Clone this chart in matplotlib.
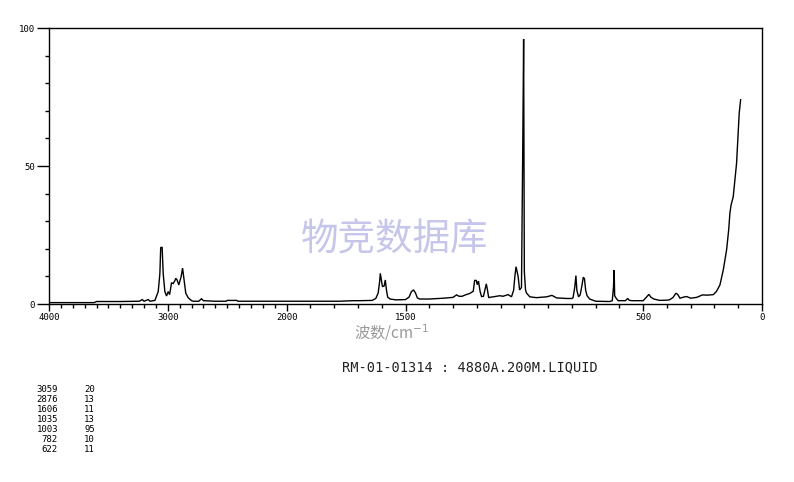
import numpy as np
import matplotlib
matplotlib.use("Agg")
import matplotlib.pyplot as plt
from matplotlib.ticker import FixedLocator, MultipleLocator

# ---- data (wavenumber cm-1, relative intensity) ----
wavenumber = [
    4000, 3620, 3600, 3400, 3240, 3215, 3200, 3165, 3150, 3109, 3095, 3081,
    3067, 3060, 3048, 3039, 3025, 3011, 2997, 2985, 2969, 2955, 2940, 2933,
    2922, 2908, 2888, 2876, 2863, 2849, 2829, 2800, 2787, 2740, 2717, 2700,
    2600, 2510, 2500, 2420, 2410, 2000,
    1780, 1720, 1693, 1640, 1625, 1615, 1609, 1606, 1602, 1597, 1590, 1585,
    1580, 1575, 1565, 1540, 1500, 1485, 1475, 1466, 1458, 1450, 1440, 1400,
    1340, 1300, 1285, 1275, 1262, 1245, 1230, 1215, 1209, 1202, 1198, 1193,
    1186, 1180, 1172, 1160, 1155, 1150, 1140, 1131, 1103, 1090, 1068, 1054,
    1045, 1040, 1035, 1031, 1026, 1020, 1012, 1006, 1003, 1000, 995, 991,
    977, 949, 906, 885, 881, 864, 822, 800, 795, 788, 783, 779, 772, 765,
    758, 752, 747, 742, 736, 725, 700, 640, 630, 625, 622, 620, 613, 605,
    575, 565, 558, 545, 500, 485, 476, 468, 455, 430, 400, 390, 375, 362,
    355, 345, 330, 317, 300, 275, 250, 230, 205, 192, 177, 163, 149, 140,
    135, 130, 121, 115, 107, 100, 96, 90,
]
intensity = [
    0.5, 0.5, 0.9, 0.9, 1.0, 1.6, 1.0, 1.6, 1.0, 1.3, 2.9, 4.5,
    11.0, 20.5, 20.5, 11.0, 4.5, 2.9, 4.5, 3.4, 7.7, 7.4, 8.5, 9.3,
    8.7, 6.9, 9.9, 13.0, 8.7, 3.9, 2.3, 1.2, 1.0, 1.0, 1.9, 1.2,
    1.0, 1.0, 1.3, 1.3, 1.0, 1.0,
    1.0, 1.2, 1.2, 1.3, 2.0, 4.0, 8.0, 11.1, 9.0, 6.3, 6.5, 8.7,
    5.0, 2.5, 1.8, 1.5, 1.6, 2.5, 4.5, 5.1, 4.0, 2.2, 1.8, 1.8,
    2.1, 2.4, 3.3, 2.8, 2.8, 3.4, 3.8, 4.6, 8.6, 8.5, 7.0, 8.3,
    4.5, 2.7, 2.8, 7.3, 5.0, 2.3, 2.5, 2.6, 3.0, 2.8, 3.4, 2.6,
    5.0, 9.9, 13.5, 12.0, 9.9, 5.1, 6.0, 63.0, 96.0, 11.7, 5.1, 4.0,
    2.6, 2.3, 2.6, 3.1, 3.0, 2.2, 2.0, 2.0, 2.3, 6.0, 10.3, 5.0, 2.6, 3.3,
    6.5, 9.7, 9.2, 5.0, 3.0, 1.8, 1.0, 0.9, 1.2, 6.0, 12.3, 3.0, 2.0, 1.2,
    1.2, 2.0, 1.3, 1.2, 1.2, 2.6, 3.5, 2.5, 1.8, 1.3, 1.4, 1.5, 2.3, 3.9,
    3.5, 2.1, 2.5, 2.7, 2.1, 2.4, 3.3, 3.2, 3.4, 4.5, 6.9, 12.3, 19.6, 27.0,
    33.0, 35.9, 38.9, 44.0, 51.0, 62.0, 69.0, 74.0,
]

major_x = [4000, 3000, 2000, 1500, 500, 0]
major_x_labels = ["4000", "3000", "2000", "1500", "500", "0"]
major_y = [0, 50, 100]

peak_pos = ["3059", "2876", "1606", "1035", "1003", "782", "622"]
peak_int = ["20", "13", "11", "13", "95", "10", "11"]

title = "RM-01-01314 : 4880A.200M.LIQUID"
watermark = "物竞数据库"


# ---- piecewise axis: 4000-2000 compressed 2x ----
def fwd(w):
    w = np.asarray(w, dtype=float)
    return np.where(w <= 2000, w, 2000 + (w - 2000) / 2.0)


def inv(u):
    u = np.asarray(u, dtype=float)
    return np.where(u <= 2000, u, 2000 + (u - 2000) * 2.0)


W, H = 794, 482
fig = plt.figure(figsize=(W / 100, H / 100), dpi=100)
ax = fig.add_axes([49 / W, 1 - 304 / H, (762 - 49) / W, (304 - 28) / H])
ax.set_xscale("function", functions=(fwd, inv))
ax.plot(wavenumber, intensity, color="black", lw=1.0, solid_joinstyle="miter")
ax.set_xlim(4000, 0)
ax.set_ylim(0, 100)

mono = "DejaVu Sans Mono"
ax.xaxis.set_major_locator(FixedLocator(major_x))
ax.set_xticklabels(major_x_labels, fontsize=6.5, family=mono)
ax.xaxis.set_minor_locator(FixedLocator([v for v in range(0, 4001, 100) if v not in major_x]))
ax.yaxis.set_major_locator(FixedLocator(major_y))
ax.set_yticklabels([str(v) for v in major_y], fontsize=6.5, family=mono)
ax.yaxis.set_minor_locator(MultipleLocator(10))

ax.tick_params(axis="x", which="major", direction="out", length=5, width=1, pad=1.5)
ax.tick_params(axis="x", which="minor", direction="out", length=3, width=1)
ax.tick_params(axis="y", which="major", direction="out", length=9, width=1, pad=1)
ax.tick_params(axis="y", which="minor", direction="out", length=3, width=1)
for s in ax.spines.values():
    s.set_linewidth(1.0)

# axis title (grey, CJK)
fig.text(392 / W, 1 - 333 / H, "波数/cm$^{-1}$", ha="center", va="center",
         fontsize=11, color="#999999", family=["Noto Sans CJK SC", "DejaVu Sans"])

# watermark
fig.text(395 / W, 1 - 240 / H, watermark, ha="center", va="center",
         fontsize=27, color="#c6c6ea", family=["Noto Sans CJK SC", "DejaVu Sans"],
         zorder=0)

# record title
fig.text(470 / W, 1 - 367 / H, title, ha="center", va="center",
         fontsize=9.8, family=mono, color="#222222")

# peak table
for i, (p, v) in enumerate(zip(peak_pos, peak_int)):
    y = 1 - (389 + 10 * i) / H
    fig.text(58 / W, y, p, ha="right", va="center", fontsize=6.5, family=mono)
    fig.text(95 / W, y, v, ha="right", va="center", fontsize=6.5, family=mono)

fig.savefig("out.png", dpi=100)
